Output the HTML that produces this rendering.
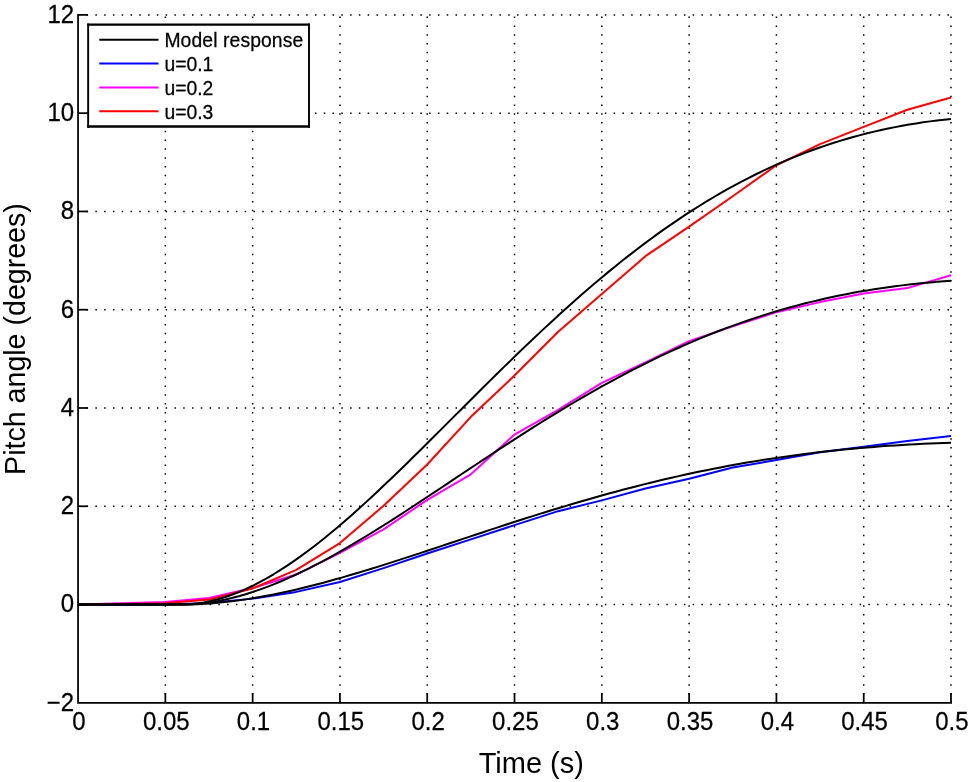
<!DOCTYPE html>
<html><head><meta charset="utf-8"><title>Pitch angle response</title>
<style>
html,body{margin:0;padding:0;background:#fff;}
body{width:969px;height:782px;position:relative;overflow:hidden;}
svg text{font-family:"Liberation Sans", sans-serif;fill:#000;}
</style></head><body>
<svg width="969" height="782" viewBox="0 0 969 782" style="position:absolute;left:0;top:0">
<g stroke="#000" stroke-width="1.5" stroke-dasharray="1.5 7.284000000000001" fill="none">
<path d="M165.35,703.25 V13.90"/>
<path d="M252.64,703.25 V13.90"/>
<path d="M339.94,703.25 V13.90"/>
<path d="M427.23,703.25 V13.90"/>
<path d="M514.52,703.25 V13.90"/>
<path d="M601.82,703.25 V13.90"/>
<path d="M689.12,703.25 V13.90"/>
<path d="M776.41,703.25 V13.90"/>
<path d="M863.71,703.25 V13.90"/>
<path d="M951.00,703.25 V13.90"/>
<path d="M77.80,604.53 H952.00"/>
<path d="M77.80,506.26 H952.00"/>
<path d="M77.80,407.99 H952.00"/>
<path d="M77.80,309.71 H952.00"/>
<path d="M77.80,211.44 H952.00"/>
<path d="M77.80,113.17 H952.00"/>
<path d="M77.80,14.90 H952.00"/>
</g>
<g fill="none" stroke-width="2.0" stroke-linejoin="round">
<path stroke="#0000ff" d="M78.05,604.53 L121.70,605.02 L165.35,604.53 L208.99,603.05 L252.64,598.63 L296.29,591.90 L339.94,581.93 L383.58,568.17 L427.23,553.57 L470.88,539.37 L514.52,525.17 L558.17,511.17 L601.82,500.36 L645.47,488.57 L689.12,478.74 L732.76,467.44 L776.41,460.07 L820.06,452.21 L863.71,446.80 L907.35,440.91 L951.00,435.99"/>
<path stroke="#ff00ff" d="M78.05,604.53 L121.70,603.30 L165.35,602.07 L208.99,597.94 L252.64,588.07 L296.29,574.56 L339.94,552.94 L383.58,529.35 L427.23,499.87 L470.88,474.32 L514.52,434.52 L558.17,409.95 L601.82,382.93 L645.47,362.29 L689.12,341.16 L732.76,326.42 L776.41,312.17 L820.06,302.10 L863.71,293.50 L907.35,288.09 L951.00,275.32"/>
<path stroke="#ff0000" d="M78.05,604.53 L121.70,603.94 L165.35,603.15 L208.99,599.62 L252.64,588.41 L296.29,569.89 L339.94,543.11 L383.58,505.77 L427.23,464.49 L470.88,416.83 L514.52,375.56 L558.17,331.83 L601.82,293.99 L645.47,256.16 L689.12,226.67 L732.76,196.21 L776.41,165.26 L820.06,144.13 L863.71,126.93 L907.35,109.73 L951.00,97.45"/>
<path stroke="#000" d="M78.05,604.53 L85.03,604.53 L92.02,604.53 L99.00,604.53 L105.98,604.53 L112.97,604.53 L119.95,604.53 L126.94,604.53 L133.92,604.53 L140.90,604.53 L147.89,604.53 L154.87,604.53 L161.85,604.53 L168.84,604.53 L175.82,604.53 L182.80,604.52 L189.79,604.43 L196.77,604.20 L203.75,603.85 L210.74,603.38 L217.72,602.79 L224.71,602.09 L231.69,601.29 L238.67,600.38 L245.66,599.38 L252.64,598.28 L259.62,597.08 L266.61,595.81 L273.59,594.44 L280.57,593.00 L287.56,591.49 L294.54,589.90 L301.53,588.25 L308.51,586.53 L315.49,584.75 L322.48,582.91 L329.46,581.02 L336.44,579.08 L343.43,577.10 L350.41,575.07 L357.39,573.00 L364.38,570.89 L371.36,568.75 L378.34,566.58 L385.33,564.39 L392.31,562.16 L399.30,559.92 L406.28,557.65 L413.26,555.37 L420.25,553.08 L427.23,550.77 L434.21,548.46 L441.20,546.14 L448.18,543.81 L455.16,541.49 L462.15,539.16 L469.13,536.83 L476.12,534.51 L483.10,532.20 L490.08,529.90 L497.07,527.60 L504.05,525.32 L511.03,523.05 L518.02,520.80 L525.00,518.56 L531.98,516.35 L538.97,514.15 L545.95,511.97 L552.93,509.82 L559.92,507.69 L566.90,505.59 L573.89,503.51 L580.87,501.46 L587.85,499.44 L594.84,497.45 L601.82,495.49 L608.80,493.56 L615.79,491.66 L622.77,489.80 L629.75,487.96 L636.74,486.17 L643.72,484.40 L650.71,482.67 L657.69,480.98 L664.67,479.33 L671.66,477.71 L678.64,476.12 L685.62,474.58 L692.61,473.07 L699.59,471.60 L706.57,470.16 L713.56,468.77 L720.54,467.41 L727.52,466.09 L734.51,464.81 L741.49,463.56 L748.48,462.36 L755.46,461.19 L762.44,460.06 L769.43,458.97 L776.41,457.91 L783.39,456.89 L790.38,455.91 L797.36,454.97 L804.34,454.06 L811.33,453.19 L818.31,452.35 L825.30,451.55 L832.28,450.78 L839.26,450.05 L846.25,449.35 L853.23,448.69 L860.21,448.06 L867.20,447.46 L874.18,446.90 L881.16,446.36 L888.15,445.86 L895.13,445.39 L902.11,444.95 L909.10,444.54 L916.08,444.15 L923.07,443.80 L930.05,443.47 L937.03,443.18 L944.02,442.90 L951.00,442.66"/>
<path stroke="#000" d="M78.05,604.53 L85.03,604.53 L92.02,604.53 L99.00,604.53 L105.98,604.53 L112.97,604.53 L119.95,604.53 L126.94,604.53 L133.92,604.53 L140.90,604.53 L147.89,604.53 L154.87,604.53 L161.85,604.53 L168.84,604.53 L175.82,604.53 L182.80,604.52 L189.79,604.32 L196.77,603.87 L203.75,603.17 L210.74,602.23 L217.72,601.05 L224.71,599.66 L231.69,598.05 L238.67,596.24 L245.66,594.22 L252.64,592.02 L259.62,589.64 L266.61,587.08 L273.59,584.36 L280.57,581.48 L287.56,578.45 L294.54,575.27 L301.53,571.96 L308.51,568.53 L315.49,564.97 L322.48,561.30 L329.46,557.52 L336.44,553.64 L343.43,549.67 L350.41,545.61 L357.39,541.47 L364.38,537.26 L371.36,532.98 L378.34,528.64 L385.33,524.24 L392.31,519.80 L399.30,515.31 L406.28,510.78 L413.26,506.22 L420.25,501.63 L427.23,497.02 L434.21,492.39 L441.20,487.75 L448.18,483.10 L455.16,478.44 L462.15,473.79 L469.13,469.14 L476.12,464.50 L483.10,459.87 L490.08,455.27 L497.07,450.68 L504.05,446.11 L511.03,441.58 L518.02,437.07 L525.00,432.60 L531.98,428.17 L538.97,423.77 L545.95,419.42 L552.93,415.12 L559.92,410.86 L566.90,406.65 L573.89,402.50 L580.87,398.40 L587.85,394.36 L594.84,390.37 L601.82,386.45 L608.80,382.59 L615.79,378.79 L622.77,375.06 L629.75,371.40 L636.74,367.80 L643.72,364.28 L650.71,360.82 L657.69,357.44 L664.67,354.12 L671.66,350.88 L678.64,347.72 L685.62,344.62 L692.61,341.61 L699.59,338.66 L706.57,335.80 L713.56,333.01 L720.54,330.29 L727.52,327.65 L734.51,325.09 L741.49,322.60 L748.48,320.19 L755.46,317.85 L762.44,315.59 L769.43,313.41 L776.41,311.29 L783.39,309.26 L790.38,307.30 L797.36,305.41 L804.34,303.59 L811.33,301.85 L818.31,300.17 L825.30,298.57 L832.28,297.04 L839.26,295.57 L846.25,294.18 L853.23,292.85 L860.21,291.59 L867.20,290.40 L874.18,289.27 L881.16,288.20 L888.15,287.19 L895.13,286.25 L902.11,285.37 L909.10,284.55 L916.08,283.78 L923.07,283.07 L930.05,282.42 L937.03,281.82 L944.02,281.28 L951.00,280.79"/>
<path stroke="#000" d="M78.05,604.53 L85.03,604.53 L92.02,604.53 L99.00,604.53 L105.98,604.53 L112.97,604.53 L119.95,604.53 L126.94,604.53 L133.92,604.53 L140.90,604.53 L147.89,604.53 L154.87,604.53 L161.85,604.53 L168.84,604.53 L175.82,604.53 L182.80,604.52 L189.79,604.22 L196.77,603.54 L203.75,602.49 L210.74,601.07 L217.72,599.32 L224.71,597.22 L231.69,594.81 L238.67,592.09 L245.66,589.07 L252.64,585.77 L259.62,582.19 L266.61,578.36 L273.59,574.27 L280.57,569.95 L287.56,565.41 L294.54,560.64 L301.53,555.68 L308.51,550.52 L315.49,545.19 L322.48,539.68 L329.46,534.01 L336.44,528.19 L343.43,522.24 L350.41,516.15 L357.39,509.94 L364.38,503.62 L371.36,497.21 L378.34,490.69 L385.33,484.10 L392.31,477.43 L399.30,470.70 L406.28,463.91 L413.26,457.06 L420.25,450.18 L427.23,443.26 L434.21,436.32 L441.20,429.36 L448.18,422.38 L455.16,415.40 L462.15,408.42 L469.13,401.45 L476.12,394.49 L483.10,387.55 L490.08,380.63 L497.07,373.75 L504.05,366.91 L511.03,360.10 L518.02,353.34 L525.00,346.64 L531.98,339.98 L538.97,333.39 L545.95,326.87 L552.93,320.41 L559.92,314.02 L566.90,307.71 L573.89,301.48 L580.87,295.33 L587.85,289.27 L594.84,283.30 L601.82,277.41 L608.80,271.62 L615.79,265.93 L622.77,260.33 L629.75,254.84 L636.74,249.44 L643.72,244.15 L650.71,238.97 L657.69,233.89 L664.67,228.92 L671.66,224.06 L678.64,219.31 L685.62,214.67 L692.61,210.15 L699.59,205.73 L706.57,201.43 L713.56,197.24 L720.54,193.17 L727.52,189.21 L734.51,185.37 L741.49,181.64 L748.48,178.02 L755.46,174.51 L762.44,171.12 L769.43,167.84 L776.41,164.68 L783.39,161.62 L790.38,158.68 L797.36,155.84 L804.34,153.12 L811.33,150.50 L818.31,147.99 L825.30,145.59 L832.28,143.29 L839.26,141.10 L846.25,139.00 L853.23,137.01 L860.21,135.12 L867.20,133.33 L874.18,131.63 L881.16,130.03 L888.15,128.53 L895.13,127.11 L902.11,125.79 L909.10,124.55 L916.08,123.41 L923.07,122.34 L930.05,121.37 L937.03,120.47 L944.02,119.66 L951.00,118.92"/>
</g>
<g stroke="#000" stroke-width="1.75" fill="none">
<path d="M78.05,14.03 V702.80 H951.88" stroke-linejoin="miter"/>
<path d="M165.35,702.80 V693.00"/>
<path d="M252.64,702.80 V693.00"/>
<path d="M339.94,702.80 V693.00"/>
<path d="M427.23,702.80 V693.00"/>
<path d="M514.52,702.80 V693.00"/>
<path d="M601.82,702.80 V693.00"/>
<path d="M689.12,702.80 V693.00"/>
<path d="M776.41,702.80 V693.00"/>
<path d="M863.71,702.80 V693.00"/>
<path d="M951.00,702.80 V693.00"/>
<path d="M78.05,604.53 H87.85"/>
<path d="M78.05,506.26 H87.85"/>
<path d="M78.05,407.99 H87.85"/>
<path d="M78.05,309.71 H87.85"/>
<path d="M78.05,211.44 H87.85"/>
<path d="M78.05,113.17 H87.85"/>
<path d="M78.05,14.90 H87.85"/>
</g>
<rect x="88.15" y="24.65" width="220.85" height="101.85" fill="#fff"/>
<path d="M88.15,23.5 V127.65 M309.0,23.5 V127.65" stroke="#000" stroke-width="1.9" fill="none"/>
<path d="M87.2,24.65 H309.95 M87.2,126.5 H309.95" stroke="#000" stroke-width="2.3" fill="none"/>
<path d="M99.3,39.7 H158.5" stroke="#000" stroke-width="2.0" fill="none"/>
<text transform="translate(164.4,46.7) scale(1,1.065)" font-size="19.35" letter-spacing="0.1" stroke="#000" stroke-width="0.25">Model response</text>
<path d="M99.3,63.6 H158.5" stroke="#0000ff" stroke-width="2.0" fill="none"/>
<text transform="translate(164.4,70.8) scale(1,1.065)" font-size="19.35" stroke="#000" stroke-width="0.25">u=0.1</text>
<path d="M99.3,87.4 H158.5" stroke="#ff00ff" stroke-width="2.0" fill="none"/>
<text transform="translate(164.4,94.7) scale(1,1.065)" font-size="19.35" stroke="#000" stroke-width="0.25">u=0.2</text>
<path d="M99.3,111.3 H158.5" stroke="#ff0000" stroke-width="2.0" fill="none"/>
<text transform="translate(164.4,118.6) scale(1,1.065)" font-size="19.35" stroke="#000" stroke-width="0.25">u=0.3</text>
<text transform="translate(78.95,730.2) scale(1,1.055)" font-size="24" text-anchor="middle" stroke="#000" stroke-width="0.25">0</text>
<text transform="translate(166.25,730.2) scale(1,1.055)" font-size="24" text-anchor="middle" stroke="#000" stroke-width="0.25">0.05</text>
<text transform="translate(253.54,730.2) scale(1,1.055)" font-size="24" text-anchor="middle" stroke="#000" stroke-width="0.25">0.1</text>
<text transform="translate(340.84,730.2) scale(1,1.055)" font-size="24" text-anchor="middle" stroke="#000" stroke-width="0.25">0.15</text>
<text transform="translate(428.13,730.2) scale(1,1.055)" font-size="24" text-anchor="middle" stroke="#000" stroke-width="0.25">0.2</text>
<text transform="translate(515.42,730.2) scale(1,1.055)" font-size="24" text-anchor="middle" stroke="#000" stroke-width="0.25">0.25</text>
<text transform="translate(602.72,730.2) scale(1,1.055)" font-size="24" text-anchor="middle" stroke="#000" stroke-width="0.25">0.3</text>
<text transform="translate(690.01,730.2) scale(1,1.055)" font-size="24" text-anchor="middle" stroke="#000" stroke-width="0.25">0.35</text>
<text transform="translate(777.31,730.2) scale(1,1.055)" font-size="24" text-anchor="middle" stroke="#000" stroke-width="0.25">0.4</text>
<text transform="translate(864.61,730.2) scale(1,1.055)" font-size="24" text-anchor="middle" stroke="#000" stroke-width="0.25">0.45</text>
<text transform="translate(951.90,730.2) scale(1,1.055)" font-size="24" text-anchor="middle" stroke="#000" stroke-width="0.25">0.5</text>
<text transform="translate(74.2,710.70) scale(1,1.04)" font-size="24" text-anchor="end" stroke="#000" stroke-width="0.25">−2</text>
<text transform="translate(74.2,612.43) scale(1,1.04)" font-size="24" text-anchor="end" stroke="#000" stroke-width="0.25">0</text>
<text transform="translate(74.2,514.16) scale(1,1.04)" font-size="24" text-anchor="end" stroke="#000" stroke-width="0.25">2</text>
<text transform="translate(74.2,415.89) scale(1,1.04)" font-size="24" text-anchor="end" stroke="#000" stroke-width="0.25">4</text>
<text transform="translate(74.2,317.61) scale(1,1.04)" font-size="24" text-anchor="end" stroke="#000" stroke-width="0.25">6</text>
<text transform="translate(74.2,219.34) scale(1,1.04)" font-size="24" text-anchor="end" stroke="#000" stroke-width="0.25">8</text>
<text transform="translate(74.2,121.07) scale(1,1.04)" font-size="24" text-anchor="end" stroke="#000" stroke-width="0.25">10</text>
<text transform="translate(74.2,22.80) scale(1,1.04)" font-size="24" text-anchor="end" stroke="#000" stroke-width="0.25">12</text>
<text x="531.3" y="773.2" font-size="29" text-anchor="middle">Time (s)</text>
<text transform="translate(24.9,339.05) rotate(-90) scale(1,1.03)" font-size="28.6" text-anchor="middle">Pitch angle (degrees)</text>
</svg>
</body></html>
